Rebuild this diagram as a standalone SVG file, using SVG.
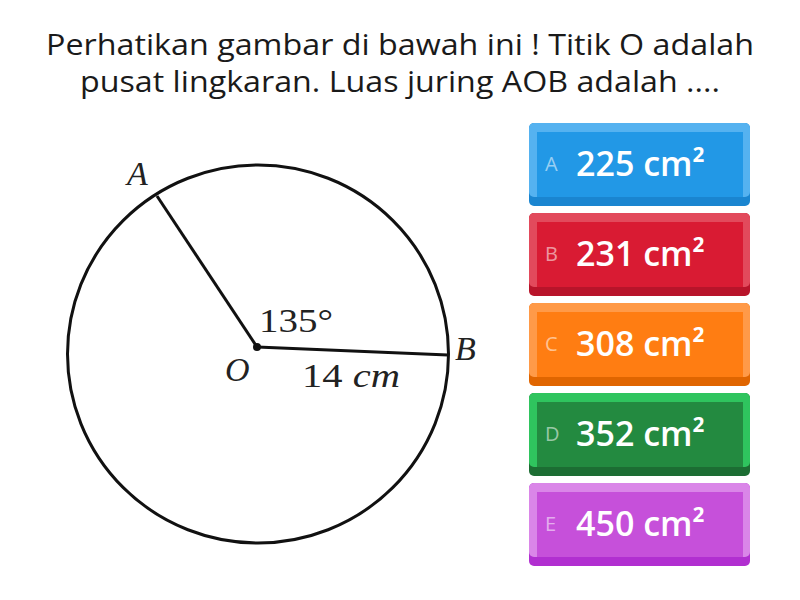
<svg xmlns="http://www.w3.org/2000/svg" width="800" height="600" viewBox="0 0 800 600">
<style>
.title{font-family:"Open Sans","Liberation Sans",sans-serif;font-size:30px;fill:#1a1a1a;text-anchor:middle}
.math{font-family:"Liberation Serif","DejaVu Serif",serif;font-size:34px;fill:#222}
.it{font-style:italic}
.letter{font-family:"Open Sans","Liberation Sans",sans-serif;font-size:20px;fill:#fff;fill-opacity:0.55}
.val{font-family:"Open Sans","Liberation Sans",sans-serif;font-size:34px;font-weight:600;fill:#fff}
.geo{fill:none;stroke:#111;stroke-width:3}
</style>
<rect width="800" height="600" fill="#fff"/>
<g id="title">
<text class="title" x="400" y="55" textLength="708" lengthAdjust="spacingAndGlyphs">Perhatikan gambar di bawah ini ! Titik O adalah</text>
<text class="title" x="400" y="92" textLength="640" lengthAdjust="spacingAndGlyphs">pusat lingkaran. Luas juring AOB adalah ....</text>
</g>
<g id="figure">
<ellipse class="geo" cx="258" cy="354" rx="190.5" ry="189"/>
<line class="geo" x1="157" y1="196" x2="257" y2="347"/>
<line class="geo" x1="257" y1="347" x2="448" y2="355"/>
<circle cx="257" cy="347" r="4" fill="#111"/>
<text class="math it" x="127" y="185">A</text>
<text class="math it" x="455" y="360">B</text>
<text class="math it" x="225" y="381">O</text>
<text class="math" x="259" y="332" textLength="74" lengthAdjust="spacingAndGlyphs">135°</text>
<text class="math" x="302" y="387" textLength="98" lengthAdjust="spacingAndGlyphs"><tspan>14 </tspan><tspan class="it">cm</tspan></text>
</g>
<g id="optA">
<rect x="529" y="123" width="221" height="83" rx="5" fill="#1a85d0"/>
<rect x="529" y="123" width="221" height="74" rx="5" fill="#55b2f0"/>
<rect x="537" y="132" width="206" height="65" fill="#2298e6"/>
<text class="letter" x="545" y="171">A</text>
<text class="val" x="576" y="176">225 cm²</text>
</g>
<g id="optB">
<rect x="529" y="213" width="221" height="83" rx="5" fill="#b8142a"/>
<rect x="529" y="213" width="221" height="74" rx="5" fill="#e24a5c"/>
<rect x="537" y="222" width="206" height="65" fill="#d91b33"/>
<text class="letter" x="545" y="261">B</text>
<text class="val" x="576" y="266">231 cm²</text>
</g>
<g id="optC">
<rect x="529" y="303" width="221" height="83" rx="5" fill="#e06500"/>
<rect x="529" y="303" width="221" height="74" rx="5" fill="#ff9a48"/>
<rect x="537" y="312" width="206" height="65" fill="#ff7d12"/>
<text class="letter" x="545" y="351">C</text>
<text class="val" x="576" y="356">308 cm²</text>
</g>
<g id="optD">
<rect x="529" y="393" width="221" height="83" rx="5" fill="#1c6d33"/>
<rect x="529" y="393" width="221" height="74" rx="5" fill="#2fc45e"/>
<rect x="537" y="402" width="206" height="65" fill="#238a40"/>
<text class="letter" x="545" y="441">D</text>
<text class="val" x="576" y="446">352 cm²</text>
</g>
<g id="optE">
<rect x="529" y="483" width="221" height="83" rx="5" fill="#b12fd0"/>
<rect x="529" y="483" width="221" height="74" rx="5" fill="#da86e8"/>
<rect x="537" y="492" width="206" height="65" fill="#c650da"/>
<text class="letter" x="545" y="531">E</text>
<text class="val" x="576" y="536">450 cm²</text>
</g>
</svg>
